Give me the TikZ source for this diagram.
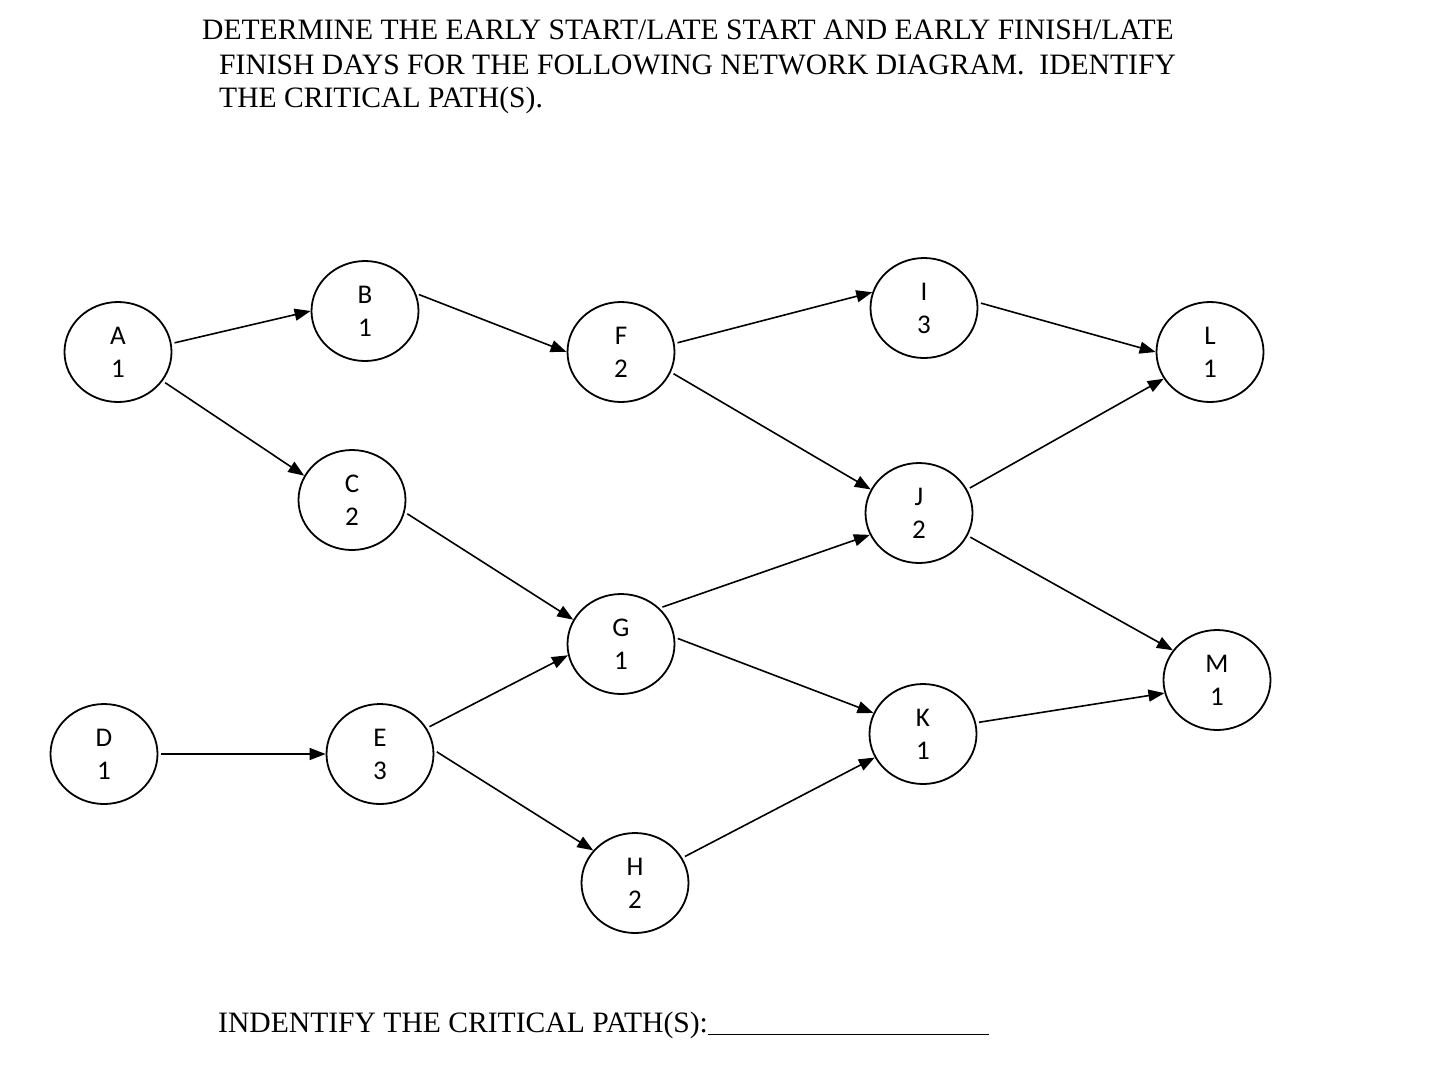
\documentclass[tikz,border=0pt]{standalone}
\usepackage{fontspec}
\setmainfont{Liberation Serif}
\newfontfamily\nodefont{Carlito}
\usetikzlibrary{shapes.geometric,arrows.meta}
\begin{document}
\begin{tikzpicture}[x=1pt,y=-1pt,
  act/.style={ellipse,draw,line width=1.8pt,minimum width=107pt,minimum height=100pt,
    inner sep=0pt,align=center,font=\nodefont\fontsize{27}{33}\selectfont},
  link/.style={line width=1.6pt,-{Triangle[length=16pt,width=12pt]},shorten <=3pt},
  ttl/.style={anchor=base west,inner sep=0pt,font=\fontsize{29.6}{34}\selectfont}]
\useasboundingbox (0,0) rectangle (1451,1080);
\fill[white] (0,0) rectangle (1451,1080);

\node[ttl] (t1) at (202,39.5) {DETERMINE THE EARLY START/LATE START AND EARLY FINISH/LATE};
\node[ttl] (t2) at (219,74) {FINISH DAYS FOR THE FOLLOWING NETWORK DIAGRAM.\ \ IDENTIFY};
\node[ttl] (t3) at (219,107.5) {THE CRITICAL PATH(S).};

\node[act] (A) at (118,352) {A\\1};
\node[act] (B) at (365,311) {B\\1};
\node[act] (C) at (352,500) {C\\2};
\node[act] (D) at (104,754) {D\\1};
\node[act] (E) at (380,754) {E\\3};
\node[act] (F) at (621,352) {F\\2};
\node[act] (G) at (621,644) {G\\1};
\node[act] (H) at (635,883) {H\\2};
\node[act] (I) at (924,308) {I\\3};
\node[act] (J) at (919,513) {J\\2};
\node[act] (K) at (923,734) {K\\1};
\node[act] (L) at (1210,352) {L\\1};
\node[act] (M) at (1217,680) {M\\1};

\draw[link] (A.9)   -- (B.180);
\draw[link] (A.-33) -- (C.153);
\draw[link] (B.19)  -- (F.180);
\draw[link] (C.-13) -- (G.153);
\draw[link] (D.east) -- (E.west);
\draw[link] (E.29)  -- (G.192);
\draw[link] (E.4)   -- (H.142);
\draw[link] (F.9)   -- (I.163);
\draw[link] (F.-22) -- (J.154);
\draw[link] (G.43)  -- (J.204);
\draw[link] (G.7)   -- (K.157);
\draw[link] (H.28)  -- (K.206);
\draw[link] (I.6)   -- (L.180);
\draw[link] (J.26)  -- (L.210);
\draw[link] (J.-25) -- (M.146);
\draw[link] (K.12)  -- (M.194);

\node[ttl] (q) at (218,1032) {INDENTIFY THE CRITICAL PATH(S):\rule[-3pt]{281pt}{1.4pt}};
\end{tikzpicture}
\end{document}
